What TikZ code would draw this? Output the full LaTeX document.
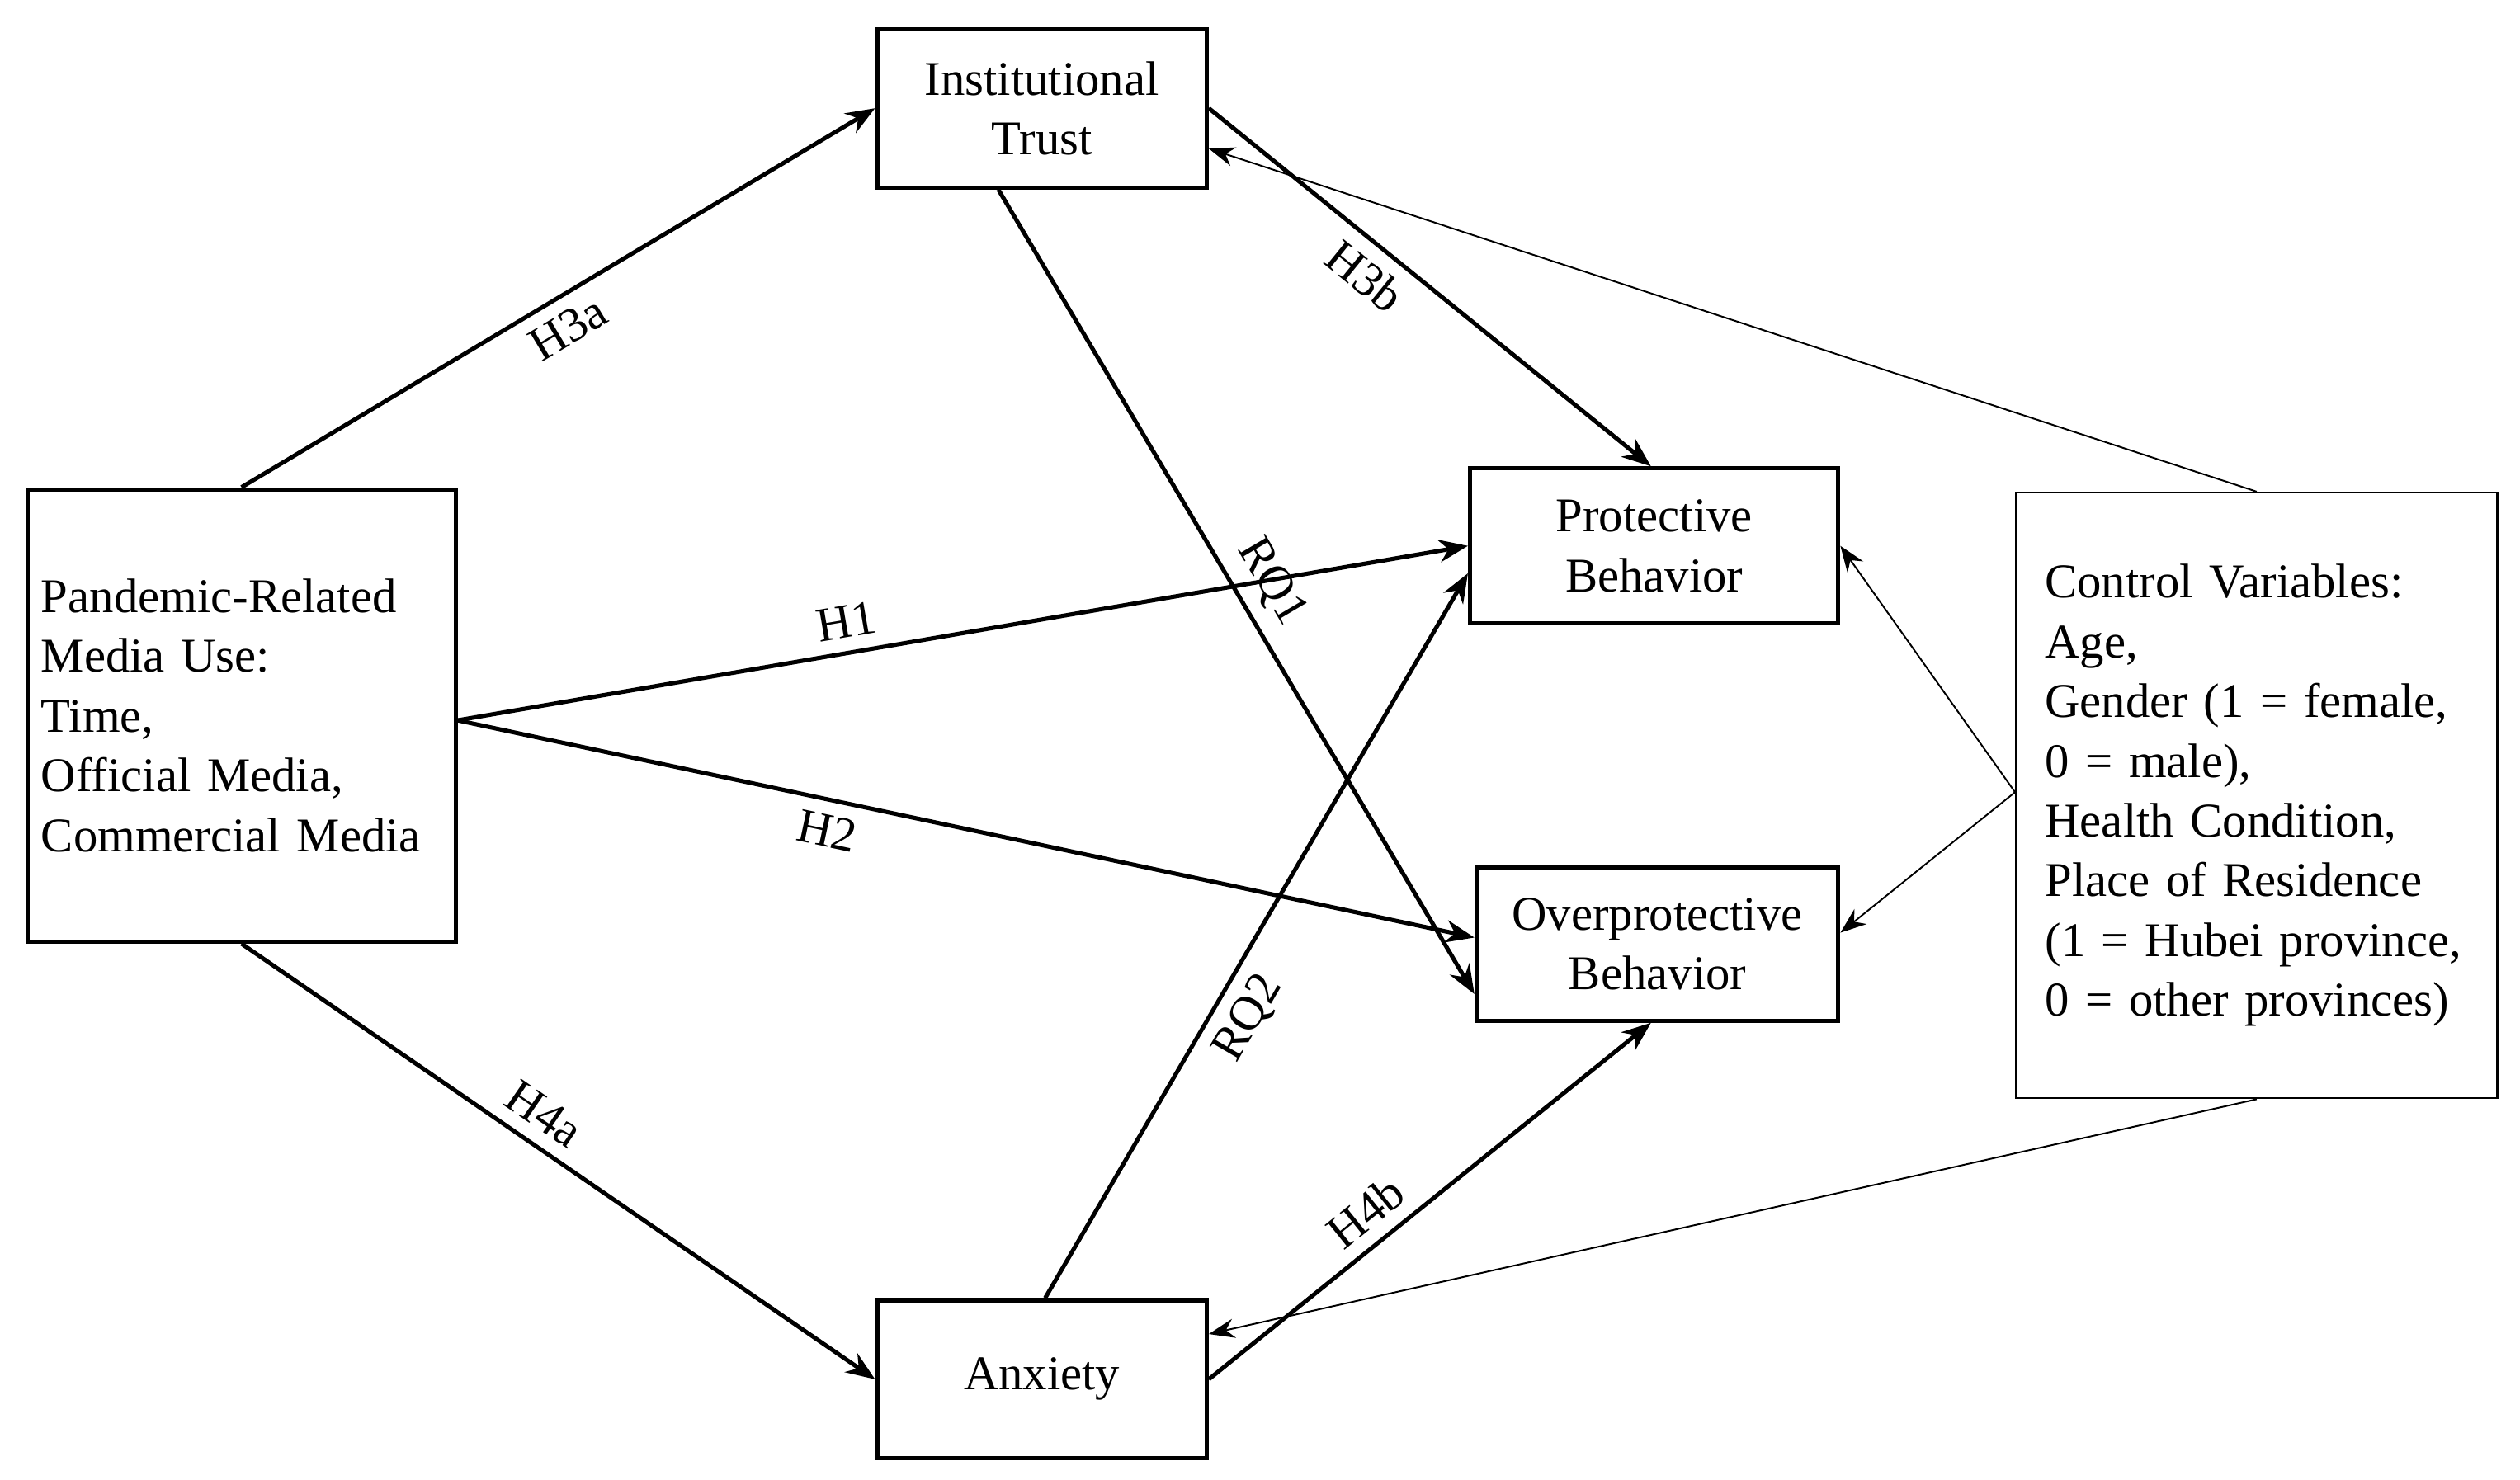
\documentclass[tikz,border=0pt]{standalone}
\usepackage{fontspec}
\setmainfont{Liberation Serif}
\usetikzlibrary{arrows.meta,calc}
\begin{document}
\begin{tikzpicture}[x=0.5pt,y=-0.5pt,
  box/.style={draw,line width=1.3pt,font=\fontsize{15}{18.5}\selectfont,inner sep=0pt,align=center},
  thick arr/.style={line width=1.3pt,-{Stealth[length=9pt,width=7pt]}},
  thin arr/.style={line width=0.5pt,-{Stealth[length=8pt,width=6pt]}},
  lab/.style={font=\fontsize{15}{15}\selectfont,sloped,inner sep=4pt}]
\useasboundingbox (0,0) rectangle (1560,916);
\node[box,minimum width=102pt,minimum height=49pt] (it) at (645,67) {Institutional\\Trust};
\node[box,minimum width=132.5pt,minimum height=140pt,align=left,text width=124pt] (media) at (149.5,443) {Pandemic-Related\\Media Use:\\Time,\\Official Media,\\Commercial Media};
\node[box,minimum width=114pt,minimum height=48pt] (pb) at (1024,338) {Protective\\Behavior};
\node[box,minimum width=112pt,minimum height=47.5pt] (ob) at (1026,584.5) {Overprotective\\Behavior};
\node[box,minimum width=102pt,minimum height=49pt] (ax) at (645,854) {Anxiety};
\node[box,line width=0.6pt,minimum width=149pt,minimum height=187.5pt,align=left,text width=131pt] (cv) at (1397,492.5) {Control Variables:\\Age,\\Gender (1 = female,\\0 = male),\\Health Condition,\\Place of Residence\\(1 = Hubei province,\\0 = other provinces)};

\draw[thick arr] (media.north) -- node[lab,below,pos=0.49]{H3a} (it.west);
\draw[thick arr] (it.east) -- node[lab,below,pos=0.40]{H3b} ([xshift=-1pt]pb.north);
\draw[thick arr] ([xshift=-13.5pt]it.south) -- node[lab,above,pos=0.51]{RQ1} ([yshift=-15.5pt]ob.west);
\draw[thick arr] ([yshift=-1.5pt]media.east) -- node[lab,above,pos=0.39]{H1} (pb.west);
\draw[thick arr] ([yshift=-1.5pt]media.east) -- node[lab,below,pos=0.37]{H2} ([yshift=2pt]ob.west);
\draw[thick arr] (media.south) -- node[lab,above,pos=0.45]{H4a} (ax.west);
\draw[thick arr] ([xshift=1pt]ax.north) -- node[lab,below,pos=0.41]{RQ2} ([yshift=-8.5pt]pb.west);
\draw[thick arr] (ax.east) -- node[lab,above,pos=0.40]{H4b} ([xshift=-2pt]ob.south);

\coordinate (cvw) at ([yshift=1pt]cv.west);
\draw[thin arr] (cv.north) -- ([yshift=-12.5pt]it.east);
\draw[thin arr] (cvw) -- (pb.east);
\draw[thin arr] (cvw) -- ([yshift=3.5pt]ob.east);
\draw[thin arr] (cv.south) -- ([yshift=14pt]ax.east);
\end{tikzpicture}
\end{document}
